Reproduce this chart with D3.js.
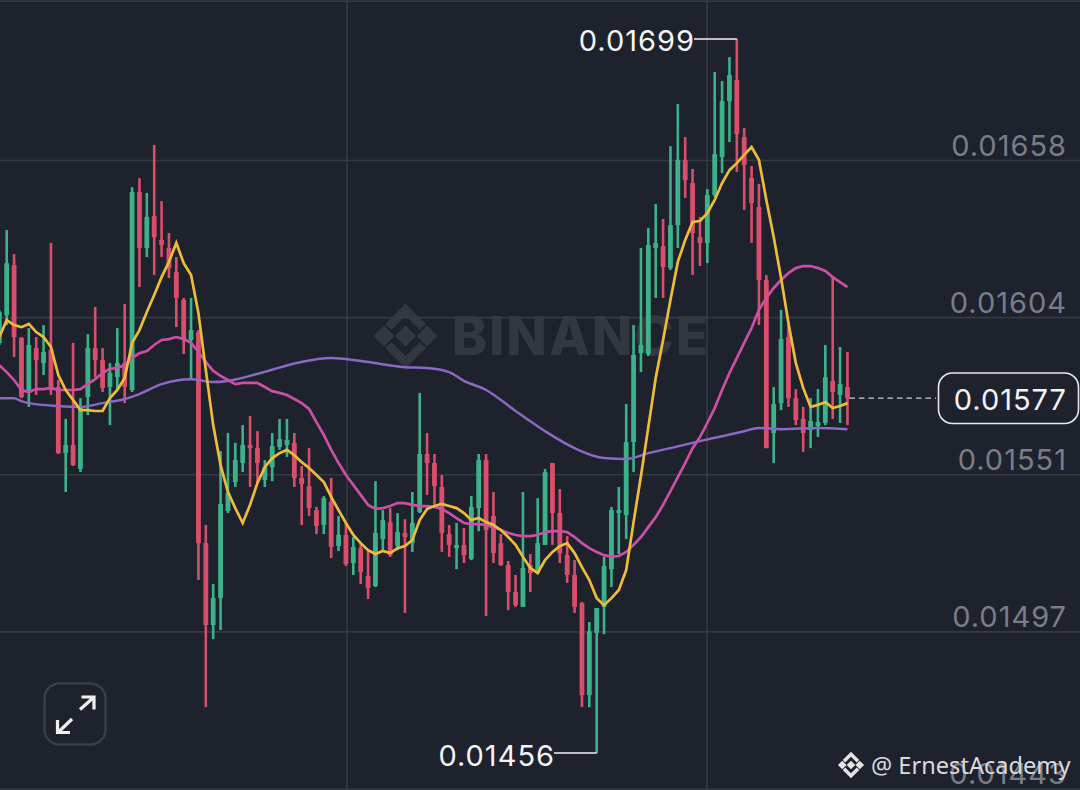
<!DOCTYPE html>
<html><head><meta charset="utf-8">
<script src="https://cdnjs.cloudflare.com/ajax/libs/d3/7.8.5/d3.min.js"></script>
<style>html,body{margin:0;padding:0;background:#1e222d;overflow:hidden}svg{display:block}text{font-family:Inter,Roboto,sans-serif}</style>
</head><body><svg id="c" width="1080" height="790"></svg>
<script>
// All prices in units of 0.00001 (1606.9 = 0.016069). First candle is index -1 (clipped by the left edge).
const highs=[1606.9,1634.2,1626.0,1597.6,1600.7,1597.6,1601.7,1629.8,1582.9,1569.6,1595.6,1576.7,1598.6,1607.9,1593.8,1588.7,1600.7,1608.9,1648.9,1652.0,1646.9,1663.3,1644.1,1633.2,1625.0,1611.0,1611.0,1600.0,1533.3,1513.1,1558.6,1564.8,1561.4,1567.5,1570.6,1565.4,1555.5,1564.8,1569.6,1569.6,1564.8,1553.5,1559.6,1539.5,1543.2,1549.4,1536.4,1534.0,1529.2,1527.1,1524.7,1548.3,1538.4,1539.1,1537.4,1535.3,1544.6,1578.5,1564.8,1557.6,1550.4,1533.3,1534.0,1532.3,1543.2,1557.6,1557.6,1544.6,1530.2,1521.0,1516.2,1544.6,1523.4,1542.5,1552.5,1554.5,1545.6,1529.5,1521.3,1507.0,1500.1,1504.9,1522.4,1539.5,1546.3,1574.7,1601.7,1628.1,1634.9,1643.1,1638.0,1662.9,1677.3,1666.0,1655.1,1638.7,1648.2,1688.3,1685.2,1693.4,1699.6,1669.1,1656.1,1650.0,1618.8,1580.5,1606.9,1601.7,1579.8,1573.7,1576.7,1579.8,1594.9,1618.1,1594.2,1592.5];
const opens=[1595.6,1605.1,1622.2,1597.3,1578.5,1593.8,1588.7,1593.2,1580.5,1557.9,1560.7,1552.5,1577.1,1593.8,1589.7,1580.5,1583.9,1588.7,1579.5,1647.2,1628.1,1639.0,1630.8,1628.1,1619.8,1610.3,1596.6,1599.3,1527.1,1499.1,1508.3,1538.1,1548.0,1554.5,1560.7,1559.6,1548.7,1553.1,1560.0,1560.7,1561.4,1549.4,1546.6,1538.4,1533.3,1541.2,1526.1,1529.9,1520.3,1525.4,1515.9,1512.4,1528.5,1534.3,1526.1,1530.6,1527.1,1537.8,1557.6,1554.5,1546.3,1530.2,1525.4,1526.5,1521.7,1539.1,1555.5,1536.4,1527.1,1519.6,1510.4,1505.3,1519.6,1516.9,1526.5,1554.5,1537.4,1523.0,1516.2,1506.6,1475.1,1496.4,1505.3,1518.2,1537.4,1536.7,1561.7,1592.1,1591.8,1628.1,1628.7,1621.2,1635.9,1658.2,1650.3,1631.8,1629.8,1646.2,1659.2,1678.3,1685.5,1666.0,1652.0,1642.1,1617.1,1564.8,1575.0,1597.6,1576.7,1569.6,1565.8,1567.2,1568.2,1582.6,1577.8,1580.5];
const closes=[1606.2,1622.9,1597.6,1577.1,1594.9,1589.7,1592.5,1579.5,1557.9,1560.7,1553.8,1573.3,1593.8,1589.7,1580.2,1585.3,1588.7,1580.5,1647.2,1628.1,1638.7,1631.8,1629.1,1621.2,1611.0,1596.6,1600.0,1527.1,1499.1,1508.3,1540.5,1544.2,1555.5,1560.7,1559.6,1554.5,1553.1,1560.3,1562.7,1562.4,1549.4,1547.3,1539.1,1533.0,1542.5,1525.8,1529.9,1520.0,1525.8,1517.2,1511.8,1530.6,1535.0,1523.0,1530.9,1529.2,1534.0,1557.6,1554.5,1546.6,1530.6,1526.5,1526.5,1523.0,1539.5,1555.5,1531.6,1523.7,1519.6,1510.4,1505.9,1518.6,1516.9,1527.1,1551.4,1537.4,1523.7,1516.2,1505.3,1475.1,1497.0,1504.9,1519.3,1538.4,1538.4,1561.7,1591.5,1594.9,1629.1,1629.8,1621.6,1635.9,1658.2,1651.3,1633.2,1629.8,1646.2,1660.2,1678.3,1687.2,1667.1,1656.5,1643.4,1617.1,1559.6,1574.7,1596.9,1576.7,1569.2,1564.8,1568.9,1568.5,1583.9,1578.8,1581.5,1576.7];
const lows=[1594.9,1601.7,1590.8,1576.7,1573.7,1577.8,1584.6,1577.8,1557.6,1544.6,1553.5,1551.4,1570.9,1583.9,1578.8,1567.5,1579.5,1575.0,1578.8,1614.7,1625.0,1618.8,1625.0,1617.8,1601.0,1591.8,1583.6,1514.5,1471.0,1494.3,1497.4,1537.4,1546.3,1551.4,1546.3,1547.7,1546.3,1548.3,1559.0,1556.6,1546.3,1533.3,1536.4,1530.2,1530.2,1522.0,1524.4,1519.3,1516.2,1513.1,1508.0,1512.1,1524.7,1522.4,1524.7,1503.2,1524.1,1537.4,1543.6,1540.2,1524.1,1522.4,1518.2,1520.3,1521.3,1531.2,1502.2,1520.3,1519.3,1504.2,1505.3,1505.3,1510.4,1516.5,1526.5,1526.5,1520.3,1513.5,1503.2,1471.0,1471.0,1455.3,1496.0,1512.1,1523.4,1528.5,1551.4,1585.6,1591.1,1611.0,1611.0,1620.5,1628.1,1645.2,1618.8,1621.9,1622.9,1645.5,1653.7,1664.3,1654.1,1641.1,1629.8,1601.7,1559.6,1554.5,1572.6,1573.7,1567.5,1558.3,1559.6,1563.4,1567.5,1569.6,1568.2,1567.5];
const maYellow=[1597.6,1603.4,1601.7,1601.0,1602.1,1599.3,1597.6,1594.2,1584.6,1579.5,1576.1,1572.6,1572.6,1572.3,1572.3,1576.7,1579.5,1583.6,1595.6,1600.0,1606.2,1612.0,1618.1,1623.3,1629.8,1622.9,1618.8,1605.8,1586.3,1567.5,1553.8,1544.6,1539.1,1534.0,1540.2,1547.7,1553.1,1556.2,1557.9,1559.0,1557.2,1554.8,1552.8,1550.4,1548.0,1542.9,1538.4,1534.0,1529.9,1527.1,1524.7,1523.4,1524.4,1523.7,1525.4,1526.1,1528.2,1535.0,1538.8,1539.8,1540.5,1539.8,1539.1,1537.4,1535.0,1535.7,1534.3,1533.3,1531.6,1529.2,1526.5,1522.4,1518.6,1516.9,1521.3,1524.1,1526.1,1527.1,1523.7,1518.9,1514.5,1508.3,1505.9,1508.3,1511.1,1517.9,1534.3,1550.1,1566.8,1583.6,1596.6,1610.3,1623.3,1630.8,1637.0,1637.3,1640.0,1644.5,1650.3,1654.7,1657.1,1659.9,1662.6,1658.2,1644.5,1631.8,1617.8,1602.4,1588.7,1580.2,1573.7,1574.4,1575.4,1573.3,1574.0,1575.0];
const maPink=[1588.0,1585.6,1582.9,1579.5,1578.8,1579.8,1579.8,1580.2,1579.5,1579.5,1579.5,1579.8,1581.5,1583.2,1585.3,1586.7,1587.0,1588.0,1590.4,1592.1,1592.8,1594.9,1596.6,1596.9,1597.6,1596.9,1595.6,1592.5,1589.1,1586.0,1584.3,1582.9,1581.5,1581.9,1581.9,1581.9,1580.5,1579.1,1578.5,1577.8,1576.4,1575.0,1573.0,1568.5,1564.1,1559.0,1554.5,1550.4,1547.0,1543.6,1540.2,1538.8,1539.1,1539.8,1540.8,1540.8,1540.2,1539.8,1539.8,1539.5,1538.8,1537.4,1535.7,1534.0,1533.6,1533.6,1533.3,1532.6,1531.6,1530.6,1529.9,1529.5,1529.5,1529.9,1530.9,1531.2,1531.2,1530.9,1529.2,1527.1,1525.4,1524.1,1523.0,1522.4,1522.7,1524.1,1526.5,1529.2,1532.6,1536.0,1540.2,1544.9,1549.7,1554.5,1559.6,1563.4,1568.2,1573.3,1579.5,1585.3,1590.4,1595.6,1600.7,1606.9,1611.0,1614.4,1617.1,1619.5,1621.2,1621.9,1621.9,1621.2,1620.2,1618.1,1616.4,1614.7];
const maPurpleIdx=[-1,1,2,3,7,10,13,16,18,21,25,28,30,34,40,44,48,54,57,60,62,65,69,73,77,81,84,87,90,94,97,100,102,105,110,114];
const maPurple=[1576.7,1576.7,1575.7,1575.0,1574.0,1573.7,1575.0,1576.4,1578.1,1581.5,1583.2,1582.2,1582.6,1585.0,1589.1,1590.4,1589.4,1587.3,1587.0,1585.6,1582.6,1579.5,1572.3,1565.4,1559.6,1556.2,1555.9,1557.9,1559.6,1562.0,1563.7,1565.4,1566.5,1566.1,1566.5,1566.1];
const priceTicks=[1658,1604.25,1550.5,1496.75,1443];
const tickLabels=["0.01658","0.01604","0.01551","0.01497","0.01443"];
const gridPrices=[1712.5,1658,1604.25,1550.5,1496.75,1443];
const gridCandles=[46.14,94.96];
const highLabel="0.01699", lowLabel="0.01456", lastLabel="0.01577";

const svg=d3.select("#c");
const x=d3.scaleLinear().domain([0,114]).range([6.7,847.45]);
const y=d3.scaleLinear().domain([1443,1658]).range([789,160.5]);
const idx=d3.range(-1,115);
const G="#3db28a",R="#d94f6b";
const numStyle=s=>s.attr("font-size",29).attr("letter-spacing",1).style("font-family","Inter,Roboto,sans-serif");

svg.append("rect").attr("width",1080).attr("height",790).attr("fill","#1e222d");

// Binance mark
function mark(cx,cy,s,fill){
  const g=svg.append("g").attr("transform",`translate(${cx},${cy}) scale(${s})`).attr("fill",fill);
  const p=["M0,-3.6 L3.6,0 L0,3.6 L-3.6,0Z","M-7.3,-3.6 L-3.7,0 L-7.3,3.6 L-10.9,0Z","M7.3,-3.6 L10.9,0 L7.3,3.6 L3.7,0Z",
    "M0,-11 L6.9,-4.1 L4.8,-2 L0,-6.8 L-4.8,-2 L-6.9,-4.1Z","M0,11 L6.9,4.1 L4.8,2 L0,6.8 L-4.8,2 L-6.9,4.1Z"];
  g.selectAll("path").data(p).join("path").attr("d",d=>d);
}
// watermark
mark(405.5,336,2.95,"#33373f");
svg.append("text").attr("x",452).attr("y",355).attr("font-size",53).attr("font-weight",800).attr("letter-spacing",2)
  .attr("fill","#33373f").style("font-family","Inter,Roboto,sans-serif").text("BINANCE");

// grid
svg.append("g").selectAll("line").data(gridPrices).join("line")
  .attr("x1",0).attr("x2",1080).attr("y1",d=>y(d)).attr("y2",d=>y(d)).attr("stroke","#353943").attr("stroke-width",1.6);
svg.append("g").selectAll("line").data(gridCandles).join("line")
  .attr("y1",0).attr("y2",790).attr("x1",d=>x(d)).attr("x2",d=>x(d)).attr("stroke","#343842").attr("stroke-width",1.6);

// candles
const col=i=>closes[i+1]>=opens[i+1]?G:R;
const cg=svg.append("g");
cg.selectAll("line").data(idx).join("line")
  .attr("x1",d=>x(d)).attr("x2",d=>x(d)).attr("y1",d=>y(highs[d+1])).attr("y2",d=>y(lows[d+1]))
  .attr("stroke",col).attr("stroke-width",2.6);
cg.selectAll("rect").data(idx).join("rect")
  .attr("x",d=>x(d)-2.4).attr("width",4.8)
  .attr("y",d=>y(Math.max(opens[d+1],closes[d+1])))
  .attr("height",d=>Math.max(1.5,Math.abs(y(opens[d+1])-y(closes[d+1]))))
  .attr("fill",col);

// moving averages
const line=d3.line().x(d=>x(d[0])).y(d=>y(d[1]));
svg.append("path").attr("d",line.curve(d3.curveMonotoneX)(maPurpleIdx.map((k,j)=>[k,maPurple[j]])))
  .attr("fill","none").attr("stroke","#8a68c4").attr("stroke-width",2.5);
line.curve(d3.curveLinear);
svg.append("path").attr("d",line(idx.map((k,j)=>[k,maPink[j]])))
  .attr("fill","none").attr("stroke","#cc4fa6").attr("stroke-width",2.7);
svg.append("path").attr("d",line(idx.map((k,j)=>[k,maYellow[j]])))
  .attr("fill","none").attr("stroke","#eebc3c").attr("stroke-width",2.7);

// price axis
const axis=d3.axisRight(y).tickValues(priceTicks).tickSize(0).tickFormat((d,i)=>tickLabels[i]);
const ax=svg.append("g").attr("transform","translate(1067,0)").call(axis);
ax.select(".domain").remove();
ax.selectAll("text").attr("x",0).attr("dy",null).attr("y",-5.5).attr("text-anchor","end")
  .attr("fill","#797d87").call(numStyle);

// last price
const lastY=y(closes[closes.length-1]);
svg.append("line").attr("x1",x(114)+2).attr("x2",936).attr("y1",lastY).attr("y2",lastY)
  .attr("stroke","#c9ccd2").attr("stroke-width",1.4).attr("stroke-dasharray","5.5 4");
svg.append("rect").attr("x",938.5).attr("y",373).attr("width",140).attr("height",50.5).attr("rx",14)
  .attr("fill","#1e222d").attr("stroke","#e8e9ec").attr("stroke-width",1.6);
svg.append("text").attr("x",1067).attr("y",410).attr("text-anchor","end").attr("fill","#f2f3f5").call(numStyle).text(lastLabel);

// high / low leaders
const hi=highs.indexOf(d3.max(highs))-1, lo=lows.indexOf(d3.min(lows))-1;
svg.append("line").attr("x1",694).attr("x2",x(hi)).attr("y1",y(highs[hi+1])).attr("y2",y(highs[hi+1])).attr("stroke","#f0f0f0").attr("stroke-width",1.5);
svg.append("text").attr("x",695).attr("y",51).attr("text-anchor","end").attr("fill","#f4f4f4").call(numStyle).text(highLabel);
svg.append("line").attr("x1",554).attr("x2",x(lo)).attr("y1",y(lows[lo+1])).attr("y2",y(lows[lo+1])).attr("stroke","#f0f0f0").attr("stroke-width",1.5);
svg.append("text").attr("x",555).attr("y",766).attr("text-anchor","end").attr("fill","#f4f4f4").call(numStyle).text(lowLabel);

// expand button
svg.append("rect").attr("x",44.5).attr("y",683.5).attr("width",61).attr("height",61).attr("rx",15)
  .attr("fill","none").attr("stroke","#3a3e49").attr("stroke-width",2.4);
const ic=svg.append("g").attr("stroke","#eef0f2").attr("stroke-width",3.2).attr("fill","none");
ic.append("path").attr("d","M80,709.5 L93,698 M81.5,697 L94,697 L94,709.5");
ic.append("path").attr("d","M72,719 L58.5,732 M57.5,720 L57.5,732.5 L70,732.5");

// footer credit
mark(851,765,1.2,"#e4e4e4");
svg.append("text").attr("x",871).attr("y",774).attr("font-size",23.6).attr("fill","#d9dadd").style("font-family","'Noto Sans',Roboto,sans-serif").text("@ ErnestAcademy");
</script></body></html>
